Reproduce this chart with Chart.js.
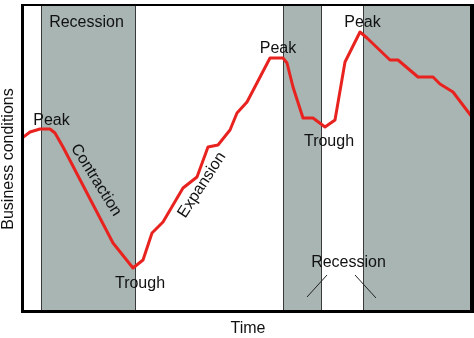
<!DOCTYPE html>
<html>
<head>
<meta charset="utf-8">
<script src="https://cdn.jsdelivr.net/npm/chart.js@4"></script>
<style>
  body { margin: 0; background: #fff; }
  canvas { display: block; }
</style>
</head>
<body>
<canvas id="ciclo" width="474" height="338"></canvas>
<script>
// Tiempo (x) y condiciones del negocio (y)
const tiempo = [0, 8, 18, 28, 33, 41, 91, 111, 121, 130, 141, 161, 175, 186, 196, 208, 215, 225,
                248, 261, 265, 271, 281, 291, 303, 313, 323, 330, 338, 345, 368, 376, 396, 411,
                418, 431, 450];
const condiciones = [172, 178, 181, 181, 177, 163, 67, 42, 50, 77, 88, 122, 133, 163, 165, 180, 197, 208,
                     252, 252, 247, 223, 192, 192, 183, 190, 248, 262, 278, 272, 250, 250, 233, 233,
                     226, 218, 193];

// Periodos de recesión (inicio, fin)
const recesiones = [[19, 113], [261, 299], [341, 450]];

// Etiquetas del ciclo: texto, x, y, rotación (grados)
const etiquetas = [
    ["Recession", 64.5, 283, 0],
    ["Peak", 29.5, 185, 0],
    ["Contraction", 74, 130, 58],
    ["Trough", 118, 22, 0],
    ["Expansion", 180, 125, -57],
    ["Peak", 256, 257, 0],
    ["Trough", 307, 164, 0],
    ["Peak", 340.5, 283, 0],
    ["Recession", 326.5, 43, 0]
];

// Flechas de la etiqueta inferior "Recession"
const flechas = [[305, 35, 285, 13], [333, 35, 354, 12]];

const FUENTE = '16px "Liberation Sans", Arial, sans-serif';

const fondoRecesiones = {
    id: "fondoRecesiones",
    beforeDatasetsDraw(chart) {
        const { ctx, chartArea, scales } = chart;
        ctx.save();
        recesiones.forEach(([a, b]) => {
            const x1 = scales.x.getPixelForValue(a);
            const x2 = scales.x.getPixelForValue(b);
            ctx.fillStyle = "#a8b5b2";
            ctx.fillRect(x1, chartArea.top, x2 - x1, chartArea.bottom - chartArea.top);
            ctx.strokeStyle = "#3a3a3a";
            ctx.lineWidth = 1;
            ctx.beginPath();
            ctx.moveTo(Math.round(x1) + 0.5, chartArea.top);
            ctx.lineTo(Math.round(x1) + 0.5, chartArea.bottom);
            ctx.moveTo(Math.round(x2) + 0.5, chartArea.top);
            ctx.lineTo(Math.round(x2) + 0.5, chartArea.bottom);
            ctx.stroke();
        });
        ctx.restore();
    },
    afterDatasetsDraw(chart) {
        const { ctx, chartArea, scales } = chart;
        const { left, right, top, bottom } = chartArea;
        ctx.save();

        // Marco
        ctx.fillStyle = "#000";
        ctx.fillRect(left - 1, top - 1, right - left + 3, 2);
        ctx.fillRect(left - 1, top - 1, 3, bottom - top + 4);
        ctx.fillRect(left - 1, bottom, right - left + 3, 3);
        ctx.fillRect(right - 2, top - 1, 4, bottom - top + 4);

        // Textos
        ctx.font = FUENTE;
        ctx.fillStyle = "#111";
        ctx.textAlign = "center";
        ctx.textBaseline = "alphabetic";
        etiquetas.forEach(([texto, x, y, rot]) => {
            const px = scales.x.getPixelForValue(x);
            const py = scales.y.getPixelForValue(y);
            ctx.save();
            ctx.translate(px, py);
            if (rot !== 0) {
                ctx.rotate(rot * Math.PI / 180);
                ctx.textBaseline = "middle";
            }
            ctx.fillText(texto, 0, 0);
            ctx.restore();
        });

        // Flechas
        ctx.strokeStyle = "#222";
        ctx.lineWidth = 1;
        flechas.forEach(([x1, y1, x2, y2]) => {
            ctx.beginPath();
            ctx.moveTo(scales.x.getPixelForValue(x1), scales.y.getPixelForValue(y1));
            ctx.lineTo(scales.x.getPixelForValue(x2), scales.y.getPixelForValue(y2));
            ctx.stroke();
        });

        // Títulos de ejes
        ctx.textBaseline = "alphabetic";
        ctx.fillText("Time", (left + right) / 2 + 1, 333);
        ctx.save();
        ctx.translate(13, 159);
        ctx.rotate(-Math.PI / 2);
        ctx.fillText("Business conditions", 0, 0);
        ctx.restore();

        ctx.restore();
    }
};

const ctx = document.getElementById("ciclo").getContext("2d");
new Chart(ctx, {
    type: "line",
    data: {
        datasets: [{
            data: tiempo.map((t, i) => ({ x: t, y: condiciones[i] })),
            borderColor: "#e8231f",
            borderWidth: 3,
            pointRadius: 0,
            tension: 0,
            borderJoinStyle: "round",
            borderCapStyle: "round"
        }]
    },
    options: {
        responsive: false,
        animation: false,
        layout: { padding: { left: 22, right: 2, top: 5, bottom: 28 } },
        plugins: { legend: { display: false }, tooltip: { enabled: false } },
        scales: {
            x: { type: "linear", min: 0, max: 450, display: false },
            y: { type: "linear", min: 0, max: 305, display: false }
        }
    },
    plugins: [fondoRecesiones]
});
</script>
</body>
</html>
